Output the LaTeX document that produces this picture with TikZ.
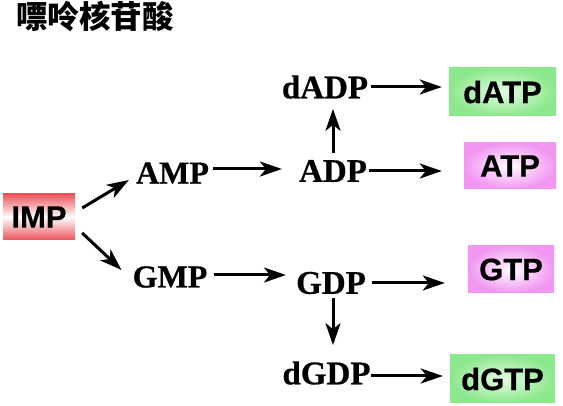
\documentclass[tikz,border=0pt]{standalone}
\usepackage{fontspec}
\usepackage{xcolor}
\usetikzlibrary{arrows.meta}
\setmainfont{Liberation Serif}[BoldFeatures={FakeBold=0.6}]
\setsansfont{Liberation Sans}[BoldFeatures={FakeBold=0.5}]
\newfontfamily\cjk{Noto Sans CJK SC}
\definecolor{impRed}{RGB}{236, 84, 92}
\definecolor{dGreen}{RGB}{140, 232, 140}
\definecolor{dGreenLight}{RGB}{228, 252, 228}
\definecolor{tpMagenta}{RGB}{242, 150, 242}

\begin{document}
\begin{tikzpicture}[x=1pt, y=-1pt]
                    \tikzstyle{mol} = [inner sep=0pt, font=\bfseries\fontsize{33}{33}\selectfont]
                    \tikzstyle{mono} = [inner sep=0pt, font=\bfseries\fontsize{32}{32}\selectfont]
                    \tikzstyle{box} = [inner sep=0pt, font=\sffamily\bfseries\fontsize{31}{31}\selectfont]
                    \tikzstyle{redbox} = [box, top color=impRed, bottom color=impRed, middle color=white]
                    \tikzstyle{greenbox} = [box, shading=radial, inner color=dGreenLight, outer color=dGreen]
                    \tikzstyle{pinkbox} = [box, shading=radial, inner color=white, outer color=tpMagenta]
                    \tikzstyle{arr} = [-{Stealth[length=22pt, width=15pt, inset=6pt]}, line width=3pt]
                    \useasboundingbox (0,0) rectangle (563,406);
                    % title
                    \node[anchor=west, inner sep=0pt, font=\cjk\bfseries\fontsize{31.5}{31.5}\selectfont] (title) at (16,17) {嘌呤核苷酸};
                    % nucleotides
                    \node[redbox, minimum width=72pt, minimum height=46pt] (imp) at (39,217) {IMP};
                    \node[mono] (amp) at (172.5,173) {AMP};
                    \node[mono] (gmp) at (170,277) {GMP};
                    \node[mol] (adp) at (333,171) {ADP};
                    \node[mol] (dadp) at (325,87) {dADP};
                    \node[mol] (gdp) at (331,283) {GDP};
                    \node[mol] (dgdp) at (326.5,373) {dGDP};
                    \node[greenbox, minimum width=107pt, minimum height=48pt] (datp) at (502.5,92) {dATP};
                    \node[pinkbox, minimum width=92pt, minimum height=46pt] (atp) at (510,166) {ATP};
                    \node[pinkbox, minimum width=86pt, minimum height=47pt] (gtp) at (511,269.5) {GTP};
                    \node[greenbox, minimum width=105pt, minimum height=48pt] (dgtp) at (502.5,379) {dGTP};
                    % arrows
                    \draw[arr] ([shift={(7,-9)}]imp.east) -- ([shift={(-7,7)}]amp.west);
                    \draw[arr] ([shift={(7,16)}]imp.east) -- ([shift={(-11,-7)}]gmp.west);
                    \draw[arr, shorten <=4pt, shorten >=17pt] ([shift={(0,-4)}]amp.east) -- ([shift={(0,-4)}]amp.east -| adp.west);
                    \draw[arr, shorten <=6pt, shorten >=10pt] ([shift={(0,-2)}]gmp.east) -- ([shift={(0,-2)}]gmp.east -| gdp.west);
                    \draw[arr, shorten <=2pt, shorten >=22pt] (adp.east) -- (adp.east -| atp.west);
                    \draw[arr, shorten <=3pt, shorten >=7pt] (dadp.east) -- (dadp.east -| datp.west);
                    \draw[arr, shorten <=6pt, shorten >=23pt] (gdp.east) -- (gdp.east -| gtp.west);
                    \draw[arr, shorten <=0pt, shorten >=7pt] ([shift={(0,3)}]dgdp.east) -- ([shift={(0,3)}]dgdp.east -| dgtp.west);
                    \draw[arr, shorten <=7pt, shorten >=10pt] (adp.north -| 333,0) -- (dadp.south -| 333,0);
                    \draw[arr, shorten <=4pt, shorten >=16pt] (gdp.south -| 333,0) -- (dgdp.north -| 333,0);
                \end{tikzpicture}
\end{document}
